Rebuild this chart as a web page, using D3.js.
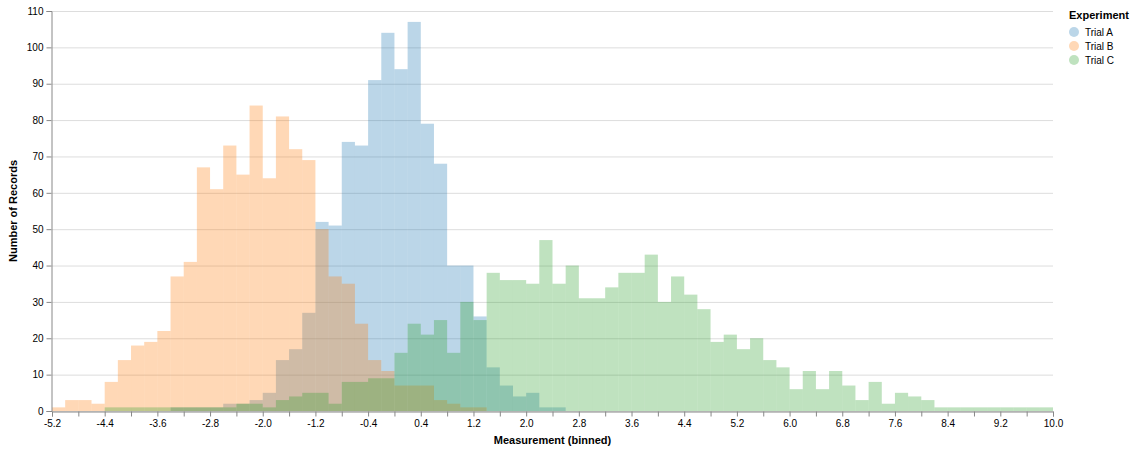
<!DOCTYPE html>
<html>
<head>
<meta charset="utf-8">
<script src="https://cdn.jsdelivr.net/npm/d3@7"></script>
<style>
  body { margin: 0; background: #fff; font-family: "Liberation Sans", Arial, sans-serif; }
</style>
</head>
<body>
<div id="chart"></div>
<script>
const BIN_START = -5.2;
const BIN_STEP = 0.2;
const trialA = [0,0,0,0,0,0,0,0,0,1, 1,1,1,2,2,3,5,14,17,27, 52,51,74,73,91,104,94,107,79,68, 40,40,26,12,7,4,5,1,1,0,
  0,0,0,0,0,0,0,0,0,0, 0,0,0,0,0,0,0,0,0,0, 0,0,0,0,0,0,0,0,0,0, 0,0,0,0,0,0];
const trialB = [1,3,3,2,8,14,18,19,22,37, 41,67,61,73,65,84,64,81,72,69, 50,37,35,24,14,11,7,7,7,3, 2,1,1,0,0,0,0,0,0,0,
  0,0,0,0,0,0,0,0,0,0, 0,0,0,0,0,0,0,0,0,0, 0,0,0,0,0,0,0,0,0,0, 0,0,0,0,0,0];
const trialC = [0,0,0,0,1,1,1,1,1,1, 1,1,1,1,2,2,1,3,4,5, 5,2,8,8,9,9,16,24,21,25, 16,30,25,38,36,36,35,47,35,40,
  31,31,34,38,38,43,30,37,32,28, 19,21,17,20,14,12,6,11,6,11, 7,3,8,2,5,4,3,1,1,1, 1,1,1,1,1,1];
const seriesNames = ['Trial A', 'Trial B', 'Trial C'];
const seriesColors = ['#1f77b4', '#ff7f0e', '#2ca02c'];
const yTicks = d3.range(0, 111, 10);

const width = 1136, height = 451;
const margin = { left: 52, top: 11, right: 1053, bottom: 411 };

const svg = d3.select('#chart').append('svg')
  .attr('width', width).attr('height', height);

const x = d3.scaleLinear().domain([-5.2, 10.0]).range([margin.left, margin.right]);
const y = d3.scaleLinear().domain([0, 110]).range([margin.bottom, margin.top]);

// grid
svg.append('g').selectAll('line').data(yTicks).join('line')
  .attr('x1', margin.left).attr('x2', margin.right)
  .attr('y1', d => y(d) + 0.5).attr('y2', d => y(d) + 0.5)
  .attr('stroke', '#ddd');

// bars
[trialA, trialB, trialC].forEach((values, i) => {
  svg.append('g').selectAll('rect')
    .data(values.map((v, k) => ({ x0: BIN_START + k * BIN_STEP, v })).filter(d => d.v > 0))
    .join('rect')
    .attr('x', d => x(d.x0))
    .attr('width', d => x(d.x0 + BIN_STEP) - x(d.x0))
    .attr('y', d => y(d.v))
    .attr('height', d => y(0) - y(d.v))
    .attr('fill', seriesColors[i])
    .attr('fill-opacity', 0.3);
});

// x axis
const xTickVals = d3.range(0, 39).map(i => +(-5.2 + i * 0.4).toFixed(1));
const xAxis = d3.axisBottom(x).tickValues(xTickVals).tickSize(5).tickPadding(3)
  .tickFormat((d, i) => i % 2 === 0 ? d.toFixed(1) : '');
const gx = svg.append('g').attr('transform', `translate(0,${margin.bottom + 0.5})`).call(xAxis);
gx.select('.domain').attr('stroke', '#888');
gx.selectAll('.tick line').attr('stroke', '#888');
gx.selectAll('text').attr('font-size', 10).attr('fill', '#000')
  .attr('font-family', '"Liberation Sans", Arial, sans-serif');

// y axis
const yAxis = d3.axisLeft(y).tickValues(yTicks).tickSize(5).tickPadding(3);
const gy = svg.append('g').attr('transform', `translate(${margin.left - 0.5},0)`).call(yAxis);
gy.select('.domain').attr('stroke', '#888');
gy.selectAll('.tick line').attr('stroke', '#888');
gy.selectAll('text').attr('font-size', 10).attr('fill', '#000')
  .attr('font-family', '"Liberation Sans", Arial, sans-serif');

// titles
svg.append('text').attr('x', (margin.left + margin.right) / 2).attr('y', 444)
  .attr('text-anchor', 'middle').attr('font-size', 11).attr('font-weight', 'bold')
  .text('Measurement (binned)');
svg.append('text').attr('transform', `translate(17,${(margin.top + margin.bottom) / 2}) rotate(-90)`)
  .attr('text-anchor', 'middle').attr('font-size', 11).attr('font-weight', 'bold')
  .text('Number of Records');

// legend
const legend = svg.append('g').attr('transform', 'translate(1069,0)');
legend.append('text').attr('x', 0).attr('y', 19).attr('font-size', 11).attr('font-weight', 'bold')
  .text('Experiment');
seriesNames.forEach((name, i) => {
  const ly = 32 + i * 14;
  legend.append('circle').attr('cx', 5).attr('cy', ly).attr('r', 5)
    .attr('fill', seriesColors[i]).attr('fill-opacity', 0.3);
  legend.append('text').attr('x', 16).attr('y', ly + 3.5).attr('font-size', 10).text(name);
});
</script>
</body>
</html>
